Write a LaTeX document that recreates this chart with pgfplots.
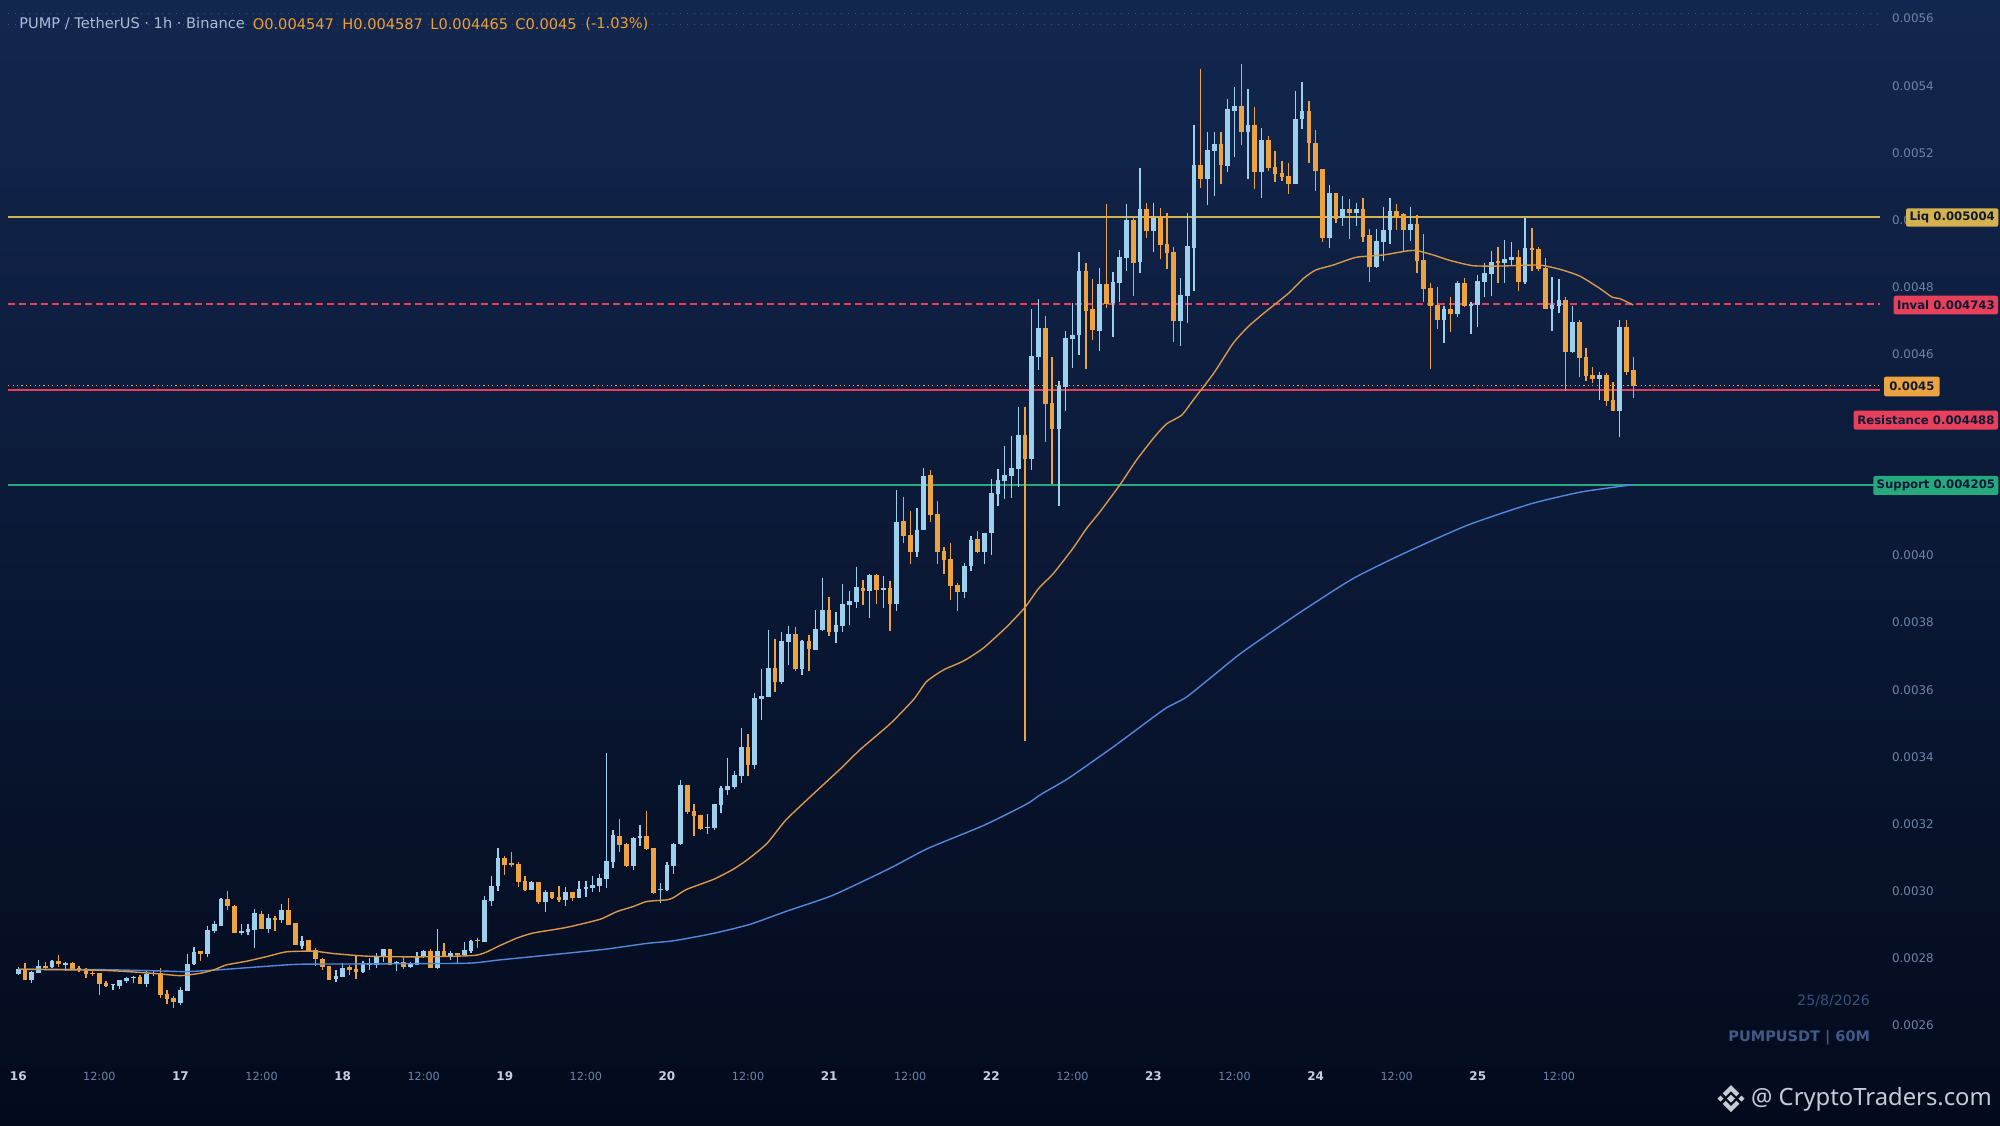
\documentclass[border=0pt]{standalone}
\usepackage{pgfplots}
\usepackage{pgfplotstable}
\usepackage{fontspec}
\pgfplotsset{compat=1.18}
\setmainfont{DejaVu Sans}
\newfontfamily\logofont{Noto Sans}
\definecolor{bgtop}{HTML}{12274F}
\definecolor{bgbot}{HTML}{030A1C}
\definecolor{upc}{HTML}{9DD0EC}
\definecolor{dnc}{HTML}{EDA33F}
\definecolor{emaA}{HTML}{D9994A}
\definecolor{emaB}{HTML}{5288DC}
\definecolor{liq}{HTML}{D6B24F}
\definecolor{red}{HTML}{E8405A}
\definecolor{sup}{HTML}{27A97F}
\definecolor{tick}{HTML}{6D84A8}
\definecolor{dark}{HTML}{0B1A35}
\definecolor{head}{HTML}{A8BDD8}
\definecolor{headO}{HTML}{F0A030}
\definecolor{wmA}{HTML}{3A5078}
\definecolor{wmB}{HTML}{405A88}
\definecolor{logoc}{HTML}{C4CCD8}
\definecolor{day}{HTML}{C5D0E0}
\newcommand{\dd}[1]{\textcolor{day}{\fontsize{6pt}{7pt}\selectfont\bfseries #1}}
\pgfplotstableread{
x o h l c
0 0.002747 0.002768 0.002743 0.002763
2 0.002730 0.002756 0.002719 0.002753
3 0.002751 0.002788 0.002751 0.002772
5 0.002767 0.002790 0.002766 0.002785
7 0.002775 0.002783 0.002756 0.002779
14 0.002713 0.002718 0.002699 0.002716
15 0.002712 0.002728 0.002701 0.002728
16 0.002726 0.002739 0.002719 0.002734
17 0.002734 0.002742 0.002719 0.002738
19 0.002718 0.002757 0.002709 0.002746
20 0.002746 0.002757 0.002740 0.002751
24 0.002661 0.002709 0.002653 0.002698
25 0.002697 0.002807 0.002697 0.002778
26 0.002776 0.002826 0.002775 0.002811
28 0.002806 0.002891 0.002799 0.002877
29 0.002874 0.002906 0.002868 0.002895
30 0.002891 0.002973 0.002891 0.002970
33 0.002869 0.002897 0.002863 0.002875
34 0.002873 0.002897 0.002862 0.002880
35 0.002879 0.002941 0.002823 0.002928
37 0.002882 0.002925 0.002868 0.002913
39 0.002908 0.002956 0.002898 0.002939
42 0.002829 0.002861 0.002822 0.002844
47 0.002733 0.002759 0.002722 0.002741
48 0.002739 0.002780 0.002738 0.002766
51 0.002753 0.002786 0.002750 0.002776
52 0.002775 0.002795 0.002758 0.002778
53 0.002773 0.002810 0.002766 0.002799
54 0.002799 0.002821 0.002783 0.002820
56 0.002776 0.002785 0.002755 0.002782
58 0.002768 0.002782 0.002766 0.002779
59 0.002775 0.002812 0.002774 0.002801
60 0.002800 0.002819 0.002795 0.002815
62 0.002764 0.002880 0.002763 0.002814
64 0.002800 0.002815 0.002790 0.002808
66 0.002803 0.002842 0.002801 0.002817
67 0.002815 0.002849 0.002808 0.002845
69 0.002843 0.002980 0.002843 0.002966
70 0.002965 0.003040 0.002949 0.003008
71 0.003008 0.003122 0.002995 0.003094
76 0.002998 0.003024 0.002997 0.003020
78 0.002960 0.002998 0.002931 0.002990
81 0.002968 0.003005 0.002949 0.002990
83 0.002974 0.003024 0.002973 0.002999
84 0.002999 0.003025 0.002975 0.003006
85 0.003004 0.003040 0.002990 0.003012
86 0.003009 0.003044 0.002990 0.003033
87 0.003030 0.003405 0.003002 0.003083
88 0.003081 0.003176 0.003062 0.003161
91 0.003069 0.003155 0.003056 0.003152
92 0.003153 0.003192 0.003127 0.003158
95 0.002996 0.003017 0.002958 0.003000
96 0.002996 0.003082 0.002993 0.003072
97 0.003070 0.003136 0.003044 0.003134
98 0.003133 0.003324 0.003131 0.003309
102 0.003181 0.003225 0.003163 0.003185
103 0.003182 0.003255 0.003175 0.003254
104 0.003252 0.003307 0.003226 0.003300
105 0.003296 0.003392 0.003280 0.003306
106 0.003304 0.003353 0.003297 0.003339
107 0.003337 0.003481 0.003316 0.003422
109 0.003371 0.003585 0.003359 0.003569
110 0.003568 0.003657 0.003504 0.003575
111 0.003573 0.003773 0.003573 0.003658
113 0.003617 0.003767 0.003610 0.003738
114 0.003737 0.003785 0.003667 0.003759
116 0.003657 0.003743 0.003637 0.003739
118 0.003714 0.003833 0.003714 0.003774
119 0.003773 0.003928 0.003768 0.003831
121 0.003767 0.003827 0.003733 0.003786
122 0.003785 0.003910 0.003766 0.003850
123 0.003848 0.003889 0.003786 0.003858
124 0.003857 0.003961 0.003837 0.003899
126 0.003889 0.003940 0.003808 0.003935
128 0.003891 0.003934 0.003838 0.003896
130 0.003851 0.004188 0.003829 0.004093
133 0.004006 0.004137 0.003989 0.004069
134 0.004071 0.004256 0.004070 0.004230
140 0.003884 0.003971 0.003867 0.003962
141 0.003964 0.004053 0.003948 0.004040
143 0.004006 0.004061 0.003969 0.004060
144 0.004062 0.004222 0.003996 0.004180
145 0.004179 0.004253 0.004142 0.004218
146 0.004217 0.004322 0.004162 0.004233
147 0.004232 0.004349 0.004165 0.004254
148 0.004253 0.004438 0.004198 0.004352
150 0.004282 0.004728 0.004248 0.004589
151 0.004587 0.004758 0.004546 0.004671
154 0.004371 0.004515 0.004142 0.004498
155 0.004495 0.004664 0.004425 0.004642
156 0.004641 0.004746 0.004552 0.004651
157 0.004650 0.004898 0.004591 0.004842
160 0.004664 0.004852 0.004603 0.004803
162 0.004746 0.004838 0.004645 0.004809
163 0.004807 0.004906 0.004749 0.004883
164 0.004882 0.005041 0.004841 0.004993
166 0.004870 0.005148 0.004835 0.005026
168 0.004960 0.005046 0.004898 0.005000
172 0.004694 0.004822 0.004619 0.004770
173 0.004769 0.005016 0.004686 0.004916
174 0.004912 0.005278 0.004782 0.005157
176 0.005115 0.005258 0.005038 0.005202
177 0.005201 0.005256 0.005065 0.005220
179 0.005156 0.005354 0.005136 0.005324
180 0.005320 0.005390 0.005181 0.005333
182 0.005258 0.005384 0.005115 0.005276
184 0.005138 0.005267 0.005059 0.005232
189 0.005102 0.005378 0.005102 0.005294
190 0.005294 0.005407 0.005265 0.005318
194 0.004942 0.005098 0.004910 0.005074
196 0.005001 0.005065 0.004975 0.005026
198 0.005016 0.005046 0.004975 0.005026
201 0.004855 0.004968 0.004850 0.004931
202 0.004930 0.005034 0.004871 0.004964
203 0.004964 0.005061 0.004922 0.005020
206 0.004965 0.005034 0.004933 0.004981
211 0.004697 0.004739 0.004627 0.004728
213 0.004714 0.004811 0.004706 0.004807
215 0.004737 0.004751 0.004655 0.004743
216 0.004742 0.004829 0.004674 0.004812
217 0.004810 0.004867 0.004764 0.004835
218 0.004834 0.004901 0.004767 0.004868
220 0.004867 0.004936 0.004806 0.004877
221 0.004876 0.004930 0.004860 0.004883
223 0.004810 0.005001 0.004802 0.004910
227 0.004730 0.004823 0.004664 0.004740
228 0.004739 0.004819 0.004716 0.004755
230 0.004602 0.004738 0.004597 0.004689
234 0.004521 0.004542 0.004457 0.004531
237 0.004426 0.004695 0.004347 0.004674
}\upbars
\pgfplotstableread{
x o h l c
1 0.002761 0.002781 0.002730 0.002730
4 0.002772 0.002783 0.002761 0.002765
6 0.002785 0.002804 0.002768 0.002776
8 0.002779 0.002783 0.002758 0.002763
9 0.002764 0.002770 0.002753 0.002761
10 0.002763 0.002766 0.002734 0.002747
11 0.002751 0.002756 0.002740 0.002746
12 0.002749 0.002751 0.002683 0.002718
13 0.002720 0.002725 0.002709 0.002712
18 0.002738 0.002744 0.002718 0.002718
21 0.002749 0.002765 0.002676 0.002684
22 0.002686 0.002698 0.002656 0.002672
23 0.002674 0.002681 0.002647 0.002664
27 0.002814 0.002815 0.002787 0.002807
31 0.002969 0.002995 0.002939 0.002950
32 0.002951 0.002953 0.002868 0.002869
36 0.002927 0.002935 0.002880 0.002881
38 0.002915 0.002921 0.002874 0.002908
40 0.002939 0.002974 0.002894 0.002894
41 0.002898 0.002899 0.002832 0.002833
43 0.002847 0.002848 0.002815 0.002816
44 0.002817 0.002823 0.002772 0.002791
45 0.002793 0.002794 0.002758 0.002767
46 0.002770 0.002772 0.002728 0.002730
49 0.002767 0.002774 0.002745 0.002760
50 0.002761 0.002800 0.002733 0.002753
55 0.002820 0.002821 0.002773 0.002774
57 0.002784 0.002796 0.002762 0.002767
61 0.002814 0.002822 0.002764 0.002765
63 0.002814 0.002840 0.002799 0.002800
65 0.002808 0.002810 0.002778 0.002805
68 0.002849 0.002855 0.002823 0.002844
72 0.003092 0.003100 0.003041 0.003073
73 0.003078 0.003111 0.003065 0.003073
74 0.003076 0.003080 0.003006 0.003021
75 0.003023 0.003040 0.002993 0.002997
77 0.003020 0.003021 0.002957 0.002960
79 0.002990 0.002992 0.002969 0.002973
80 0.002976 0.003008 0.002961 0.002968
82 0.002990 0.002991 0.002964 0.002973
89 0.003158 0.003208 0.003110 0.003131
90 0.003134 0.003138 0.003065 0.003068
93 0.003158 0.003234 0.003117 0.003119
94 0.003122 0.003122 0.002984 0.002989
99 0.003309 0.003310 0.003223 0.003230
100 0.003232 0.003255 0.003157 0.003218
101 0.003221 0.003222 0.003175 0.003179
108 0.003422 0.003463 0.003336 0.003371
112 0.003658 0.003746 0.003586 0.003618
115 0.003759 0.003782 0.003650 0.003656
117 0.003738 0.003758 0.003650 0.003717
120 0.003831 0.003871 0.003754 0.003767
125 0.003896 0.003922 0.003846 0.003889
127 0.003935 0.003939 0.003850 0.003892
129 0.003896 0.003919 0.003769 0.003851
131 0.004096 0.004168 0.004031 0.004053
132 0.004054 0.004128 0.003969 0.004006
135 0.004233 0.004250 0.004093 0.004116
136 0.004117 0.004158 0.003969 0.004006
137 0.004007 0.004021 0.003939 0.003982
138 0.003983 0.004033 0.003861 0.003904
139 0.003905 0.003913 0.003829 0.003884
142 0.004042 0.004066 0.004003 0.004005
149 0.004352 0.004438 0.003441 0.004282
152 0.004671 0.004709 0.004332 0.004446
153 0.004448 0.004587 0.004206 0.004371
158 0.004842 0.004867 0.004549 0.004724
159 0.004728 0.004817 0.004637 0.004667
161 0.004803 0.005043 0.004731 0.004744
165 0.004993 0.005004 0.004769 0.004867
167 0.005026 0.005044 0.004942 0.004962
169 0.005000 0.005029 0.004877 0.004921
170 0.004922 0.005016 0.004847 0.004897
171 0.004898 0.004915 0.004630 0.004694
175 0.005157 0.005445 0.005089 0.005115
178 0.005220 0.005258 0.005101 0.005159
181 0.005333 0.005458 0.005217 0.005258
183 0.005276 0.005330 0.005086 0.005138
185 0.005232 0.005244 0.005139 0.005150
186 0.005151 0.005201 0.005107 0.005132
187 0.005133 0.005171 0.005110 0.005123
188 0.005124 0.005165 0.005071 0.005102
191 0.005318 0.005350 0.005163 0.005225
192 0.005223 0.005261 0.005080 0.005141
193 0.005145 0.005145 0.004928 0.004942
195 0.005074 0.005075 0.004984 0.004998
197 0.005026 0.005058 0.004937 0.005016
199 0.005026 0.005061 0.004928 0.004945
200 0.004949 0.004968 0.004808 0.004855
204 0.005020 0.005041 0.004965 0.005004
205 0.005012 0.005016 0.004898 0.004965
207 0.004981 0.005009 0.004837 0.004872
208 0.004875 0.004952 0.004749 0.004790
209 0.004791 0.004807 0.004549 0.004739
210 0.004741 0.004794 0.004670 0.004697
212 0.004728 0.004764 0.004660 0.004715
214 0.004806 0.004822 0.004735 0.004737
219 0.004871 0.004915 0.004806 0.004866
222 0.004883 0.004906 0.004782 0.004810
224 0.004910 0.004971 0.004841 0.004905
225 0.004907 0.004915 0.004841 0.004849
226 0.004850 0.004880 0.004730 0.004730
229 0.004755 0.004766 0.004486 0.004602
231 0.004690 0.004695 0.004527 0.004584
232 0.004585 0.004614 0.004513 0.004530
233 0.004531 0.004555 0.004507 0.004521
235 0.004531 0.004537 0.004441 0.004456
236 0.004457 0.004510 0.004424 0.004426
238 0.004674 0.004695 0.004531 0.004542
239 0.004547 0.004587 0.004465 0.004500
}\downbars
\pgfplotstableread{
x y
0 0.002761
12.1 0.002758
17 0.002753
21 0.002747
24 0.002742
26.9 0.002749
28.9 0.002759
30.8 0.002774
33.8 0.002785
36.8 0.002799
39.7 0.002813
43.7 0.002815
46.6 0.002808
51.6 0.002800
59 0.002798
67.8 0.002803
71.3 0.002832
73.8 0.002854
76.2 0.002869
81.2 0.002886
86.1 0.002910
88.6 0.002933
91 0.002948
93 0.002963
96 0.002968
97 0.002975
98.9 0.002999
102.9 0.003029
105.8 0.003059
108 0.003089
110.8 0.003136
113.7 0.003208
118.7 0.003303
121.6 0.003357
124.6 0.003416
129 0.003492
132.5 0.003565
134.4 0.003618
136.9 0.003653
139.9 0.003680
142.8 0.003718
146.3 0.003782
149 0.003840
151 0.003896
153.2 0.003941
156.1 0.004016
158.1 0.004075
160.1 0.004125
163 0.004204
165.5 0.004279
168 0.004344
169.9 0.004386
172.2 0.004413
173.9 0.004458
176.9 0.004537
179.8 0.004627
182 0.004676
184.3 0.004716
188 0.004776
190.2 0.004820
192 0.004845
194.6 0.004860
198 0.004883
202 0.004890
205.5 0.004902
207 0.004903
209.4 0.004890
212 0.004873
215.3 0.004858
219.3 0.004857
225 0.004860
228.2 0.004847
231.1 0.004827
234 0.004791
235.9 0.004764
237 0.004760
239 0.004741
}\emafast
\pgfplotstableread{
x y
0 0.002761
12.1 0.002760
21 0.002756
24.9 0.002754
29.4 0.002759
36.8 0.002770
41.7 0.002776
51.6 0.002777
66.4 0.002779
71.3 0.002789
86.1 0.002819
93 0.002838
97 0.002846
102.9 0.002868
108.3 0.002895
113.7 0.002934
120.6 0.002982
129 0.003062
134.6 0.003121
142.9 0.003190
149.2 0.003253
151.4 0.003283
155.4 0.003330
162.2 0.003426
169.6 0.003536
173 0.003574
180.3 0.003693
183.7 0.003742
189.8 0.003826
197.4 0.003924
204.9 0.003999
214.4 0.004084
223.8 0.004148
231.4 0.004184
238.9 0.004205
}\emaslow
\begin{document}
\begin{tikzpicture}
\useasboundingbox (0,0) rectangle (1000pt,562.5pt);
\begin{axis}[
  at={(0,0)}, anchor=south west,
  scale only axis, width=1000pt, height=562.5pt,
  xmin=-2.708, xmax=293.28, ymin=0.0022968, ymax=0.00565,
  axis line style={draw=none}, major tick length=0pt,
  axis background/.style={top color=bgtop, bottom color=bgbot},
  scaled y ticks=false,
  ytick={0.0026,0.0028,0.0030,0.0032,0.0034,0.0036,0.0038,0.0040,0.0042,0.0044,0.0046,0.0048,0.0050,0.0052,0.0054,0.0056},
  yticklabels={0.0026,0.0028,0.0030,0.0032,0.0034,0.0036,0.0038,0.0040,,,0.0046,0.0048,0.0050,0.0052,0.0054,0.0056},
  yticklabel pos=right,
  yticklabel style={anchor=west, inner sep=0pt, xshift=-54.15pt, yshift=-0.95pt, text=tick, font=\fontsize{5.95pt}{7pt}\selectfont},
  xtick={0,12,24,36,48,60,72,84,96,108,120,132,144,156,168,180,192,204,216,228},
  xticklabels={\dd{16},12:00,\dd{17},12:00,\dd{18},12:00,\dd{19},12:00,\dd{20},12:00,\dd{21},12:00,\dd{22},12:00,\dd{23},12:00,\dd{24},12:00,\dd{25},12:00},
  xticklabel style={anchor=center, inner sep=0pt, yshift=24.5pt, text=tick, font=\fontsize{5.6pt}{7pt}\selectfont},
  error bars/error mark=none,
]
\addplot[forget plot, color=white!20!bgtop, line width=0.4pt, dash pattern=on 0.5pt off 3pt] coordinates {(-1.5,0.00561)(275.5,0.00561)};
\addplot[forget plot, color=white!20!bgtop, line width=0.4pt, dash pattern=on 0.5pt off 3pt] coordinates {(-1.5,0.005578)(275.5,0.005578)};
\addplot[forget plot, liq, line width=0.85pt] coordinates {(-1.5,0.005004)(275.5,0.005004)};
\addplot[forget plot, red, line width=0.85pt, dash pattern=on 3.5pt off 2pt] coordinates {(-1.5,0.004743)(275.5,0.004743)};
\addplot[forget plot, red, line width=0.85pt] coordinates {(-1.5,0.004488)(275.5,0.004488)};
\addplot[forget plot, dnc, line width=0.45pt, dash pattern=on 0.6pt off 1.6pt] coordinates {(-1.5,0.0045)(275.5,0.0045)};
\addplot[forget plot, sup, line width=0.85pt] coordinates {(-1.5,0.004205)(275.5,0.004205)};
% wicks
\addplot[forget plot, draw=none, mark=none, error bars/.cd, y dir=minus, y explicit, error bar style={draw=upc, line width=0.65pt}]
  table[x=x, y=h, y error minus expr=\thisrow{h}-\thisrow{l}] {\upbars};
\addplot[forget plot, draw=none, mark=none, error bars/.cd, y dir=minus, y explicit, error bar style={draw=dnc, line width=0.65pt}]
  table[x=x, y=h, y error minus expr=\thisrow{h}-\thisrow{l}] {\downbars};
% bodies
\addplot[forget plot, draw=none, mark=none, error bars/.cd, y dir=minus, y explicit, error bar style={draw=upc, line width=2.35pt}]
  table[x=x, y=c, y error minus expr=\thisrow{c}-\thisrow{o}] {\upbars};
\addplot[forget plot, draw=none, mark=none, error bars/.cd, y dir=minus, y explicit, error bar style={draw=dnc, line width=2.35pt}]
  table[x=x, y=o, y error minus expr=\thisrow{o}-\thisrow{c}] {\downbars};
% moving averages
\addplot[forget plot, emaB, line width=0.7pt, smooth, tension=0.35] table[x=x,y=y] {\emaslow};
\addplot[forget plot, emaA, line width=0.7pt, smooth, tension=0.35] table[x=x,y=y] {\emafast};
\end{axis}
% header
\tikzset{hd/.style={anchor=west, inner sep=0pt, font=\fontsize{7.3pt}{9pt}\selectfont}}
\node[hd, text=head] at (9.5pt,550.5pt) {PUMP / TetherUS · 1h · Binance};
\node[hd, text=headO] at (126.2pt,550.5pt) {O0.004547};
\node[hd, text=headO] at (171pt,550.5pt) {H0.004587};
\node[hd, text=headO] at (215pt,550.5pt) {L0.004465};
\node[hd, text=headO] at (257.5pt,550.5pt) {C0.0045};
\node[hd, text=headO] at (292.5pt,550.5pt) {(-1.03\%)};
% tags (pixel box to pt)
\newcommand{\tagbox}[6]{%
  \fill[#5, rounded corners=1pt] (#1*0.5pt,562.5pt-#3*0.5pt) rectangle (#2*0.5pt,562.5pt-#4*0.5pt);
  \node[anchor=center, inner sep=0pt, text=dark, font=\fontsize{5.85pt}{7pt}\selectfont\bfseries] at ({(#1+#2)*0.25pt},{562.5pt-(#3+#4)*0.25pt}) {#6};}
\tagbox{1906}{1998.3}{208.3}{226.7}{liq}{Liq 0.005004}
\tagbox{1893.7}{1998}{295.7}{314.3}{red}{Inval 0.004743}
\tagbox{1884}{1939.7}{376.7}{396.3}{dnc}{0.0045}
\tagbox{1853.7}{1998}{410.7}{429.7}{red}{Resistance 0.004488}
\tagbox{1873.3}{1998.3}{476}{495}{sup}{Support 0.004205}
% watermarks
\node[anchor=east, inner sep=0pt, text=wmA, font=\fontsize{7.1pt}{9pt}\selectfont] at (935.2pt,62.2pt) {25/8/2026};
\node[anchor=east, inner sep=0pt, text=wmB, font=\fontsize{7.25pt}{9pt}\selectfont\bfseries] at (935.2pt,43.6pt) {PUMPUSDT | 60M};
\node[anchor=west, inner sep=0pt, text=logoc, font=\fontsize{11.9pt}{15pt}\selectfont\logofont] at (875.35pt,12.6pt) {@ CryptoTraders.com};
\begin{scope}[shift={(865.5pt,13.2pt)}, x=0.5pt, y=0.5pt]
\fill[logoc] (0,4)--(4,0)--(0,-4)--(-4,0)--cycle;
\fill[logoc] (-10.5,3)--(-7.5,0)--(-10.5,-3)--(-13.5,0)--cycle;
\fill[logoc] (10.5,3)--(13.5,0)--(10.5,-3)--(7.5,0)--cycle;
\fill[logoc] (0,13.5)--(8.3,5.2)--(5.3,2.2)--(0,7.5)--(-5.3,2.2)--(-8.3,5.2)--cycle;
\fill[logoc] (0,-13.5)--(8.3,-5.2)--(5.3,-2.2)--(0,-7.5)--(-5.3,-2.2)--(-8.3,-5.2)--cycle;
\end{scope}
\end{tikzpicture}
\end{document}
